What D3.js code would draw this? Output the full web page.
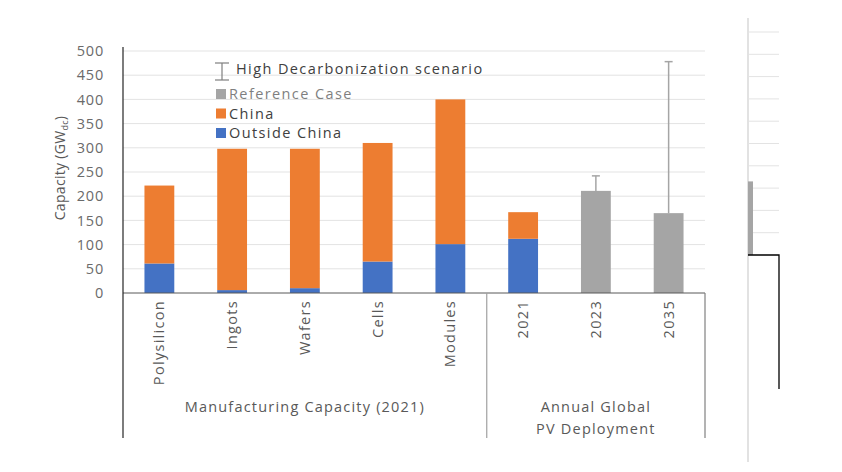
<!DOCTYPE html>
<html><head><meta charset="utf-8">
<script src="https://cdn.jsdelivr.net/npm/d3@7"></script>
<style>body{margin:0;background:#fff}svg{display:block}text{font-family:"Open Sans",sans-serif}</style>
</head><body><svg id="c" width="842" height="472"></svg>
<script>
const categories = ["Polysilicon","Ingots","Wafers","Cells","Modules","2021","2023","2035"];
const outsideChina = [61, 6, 10, 65, 101, 112, 0, 0];
const china = [161, 292, 288, 245, 299, 55, 0, 0];
const referenceCase = [0, 0, 0, 0, 0, 0, 211, 165];
const highDecarb = [null, null, null, null, null, null, 242, 478];
const yTicks = [0,50,100,150,200,250,300,350,400,450,500];
const groups = [{label:["Manufacturing Capacity (2021)"], from:0, to:4},{label:["Annual Global","PV Deployment"], from:5, to:7}];
const legendItems = ["High Decarbonization scenario","Reference Case","China","Outside China"];

(function(){
const svg = d3.select("#c");
const pl=123, pr=705, pt=51, pb=293;
const x = d3.scaleBand().domain(categories).range([pl,pr]).paddingInner(0.59).paddingOuter(0.295);
const y = d3.scaleLinear().domain([0,500]).range([pb,pt]);
const col = {out:"#4472C4", china:"#ED7D31", ref:"#A5A5A5"};
const txt = "#595959";

svg.append("g").selectAll("line").data(yTicks.slice(1)).join("line")
  .attr("x1",pl).attr("x2",pr).attr("y1",d=>y(d)).attr("y2",d=>y(d))
  .attr("stroke","#e3e3e3").attr("stroke-width",1);

const ya = svg.append("g").attr("transform",`translate(${pl},0)`).call(d3.axisLeft(y).tickValues(yTicks).tickSize(0).tickPadding(19));
ya.select(".domain").remove();
ya.selectAll("text").attr("fill","#6a6a6a").style("font-size","14.5px").style("letter-spacing","0.8px").style("font-family","'Open Sans',sans-serif");

svg.append("text").attr("transform","translate(65,168) rotate(-90)").attr("text-anchor","middle")
  .attr("fill",txt).style("font-size","14px").style("letter-spacing","0.3px")
  .html('Capacity (GW<tspan font-size="9" dy="3">dc</tspan><tspan dy="-3">)</tspan>');

const bars = svg.append("g");
categories.forEach((c,i)=>{
  const bx = x(c), bw = x.bandwidth();
  if(outsideChina[i]>0) bars.append("rect").attr("x",bx).attr("width",bw).attr("y",y(outsideChina[i])).attr("height",y(0)-y(outsideChina[i])).attr("fill",col.out);
  if(china[i]>0) bars.append("rect").attr("x",bx).attr("width",bw).attr("y",y(outsideChina[i]+china[i])).attr("height",y(outsideChina[i])-y(outsideChina[i]+china[i])).attr("fill",col.china);
  if(referenceCase[i]>0) bars.append("rect").attr("x",bx).attr("width",bw).attr("y",y(referenceCase[i])).attr("height",y(0)-y(referenceCase[i])).attr("fill",col.ref);
  if(highDecarb[i]!=null){
    const cx = bx+bw/2;
    bars.append("line").attr("x1",cx).attr("x2",cx).attr("y1",y(referenceCase[i])).attr("y2",y(highDecarb[i])).attr("stroke","#A5A5A5").attr("stroke-width",1.5);
    bars.append("line").attr("x1",cx-4).attr("x2",cx+4).attr("y1",y(highDecarb[i])).attr("y2",y(highDecarb[i])).attr("stroke","#A5A5A5").attr("stroke-width",1.5);
  }
});

svg.append("line").attr("x1",pl).attr("x2",pr).attr("y1",pb).attr("y2",pb).attr("stroke","#595959").attr("stroke-width",1);
svg.append("line").attr("x1",pl).attr("x2",pl).attr("y1",47).attr("y2",438).attr("stroke","#262626").attr("stroke-width",1.2);
const sepX = (x(categories[4])+x.bandwidth()+x(categories[5]))/2;
svg.append("line").attr("x1",sepX).attr("x2",sepX).attr("y1",pb).attr("y2",438).attr("stroke","#a0a0a0").attr("stroke-width",1.2);
svg.append("line").attr("x1",pr).attr("x2",pr).attr("y1",pb).attr("y2",438).attr("stroke","#808080").attr("stroke-width",1.2);

svg.append("g").selectAll("text").data(categories).join("text")
  .attr("transform",d=>`translate(${x(d)+x.bandwidth()/2+5},300) rotate(-90)`)
  .attr("text-anchor","end").attr("fill",txt).style("font-size","14.5px").style("letter-spacing","1.3px").text(d=>d);

groups.forEach(g=>{
  const cx = (x(categories[g.from]) + x(categories[g.to])+x.bandwidth())/2;
  g.label.forEach((l,k)=>{
    svg.append("text").attr("x",cx).attr("y",412+k*22).attr("text-anchor","middle").attr("fill",txt).style("font-size","14.5px").style("letter-spacing","1.2px").text(l);
  });
});

const lg = svg.append("g");
lg.append("line").attr("x1",222).attr("x2",222).attr("y1",63).attr("y2",80).attr("stroke","#7f7f7f").attr("stroke-width",1.2);
lg.append("line").attr("x1",215).attr("x2",229).attr("y1",63).attr("y2",63).attr("stroke","#7f7f7f").attr("stroke-width",1.2);
lg.append("line").attr("x1",215).attr("x2",229).attr("y1",80).attr("y2",80).attr("stroke","#7f7f7f").attr("stroke-width",1.2);
lg.append("text").attr("x",236).attr("y",74).attr("fill","#404040").style("font-size","14.5px").style("letter-spacing","1.4px").text(legendItems[0]);
const sw = [col.ref,col.china,col.out];
[1,2,3].forEach((k,j)=>{
  const yy = 94 + j*19.5;
  lg.append("rect").attr("x",216).attr("y",yy-5).attr("width",10).attr("height",10).attr("fill",sw[j]);
  lg.append("text").attr("x",229).attr("y",yy+5).attr("fill",j==0?"#7f7f7f":"#404040").style("font-size","14.5px").style("letter-spacing","1.4px").text(legendItems[k]);
});

const fx = 748;
svg.append("line").attr("x1",fx).attr("x2",fx).attr("y1",18).attr("y2",462).attr("stroke","#d9d9d9").attr("stroke-width",1.5);
const fy = d3.scaleLinear().domain([0,10]).range([255,32]);
svg.append("g").selectAll("line").data(d3.range(1,11)).join("line")
  .attr("x1",fx).attr("x2",779).attr("y1",d=>fy(d)).attr("y2",d=>fy(d)).attr("stroke","#e3e3e3");
svg.append("rect").attr("x",fx).attr("y",fy(3.3)).attr("width",5).attr("height",fy(0)-fy(3.3)).attr("fill","#A5A5A5");
svg.append("path").attr("d",`M${fx},${fy(0)}H779V389`).attr("fill","none").attr("stroke","#000").attr("stroke-width",1.3);
})();
</script></body></html>
